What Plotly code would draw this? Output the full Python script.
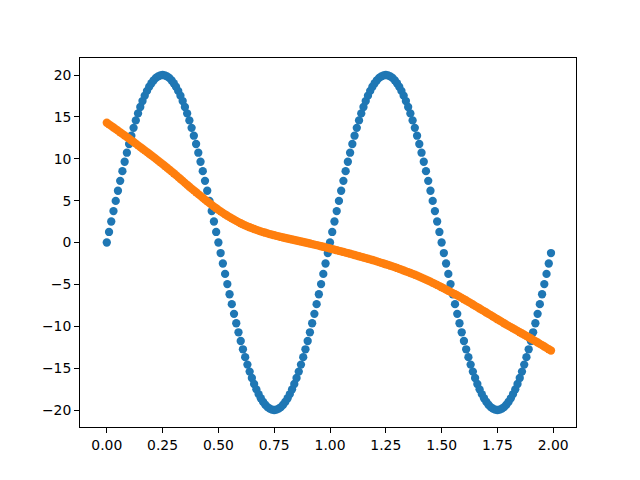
import plotly.graph_objects as go

# x positions (step 0.01 from 0.00 to 1.99)
x_vals = [round(0.01 * i, 2) for i in range(200)]

# blue series
blue_y = [
    0, 1.26, 2.51, 3.75, 4.97, 6.18, 7.36, 8.52, 9.64, 10.72,
    11.76, 12.75, 13.69, 14.58, 15.41, 16.18, 16.89, 17.53, 18.10, 18.60,
    19.02, 19.37, 19.65, 19.84, 19.96, 20.0, 19.96, 19.84, 19.65, 19.37,
    19.02, 18.60, 18.10, 17.53, 16.89, 16.18, 15.41, 14.58, 13.69, 12.75,
    11.76, 10.72, 9.64, 8.52, 7.36, 6.18, 4.97, 3.75, 2.51, 1.26,
    0, -1.26, -2.51, -3.75, -4.97, -6.18, -7.36, -8.52, -9.64, -10.72,
    -11.76, -12.75, -13.69, -14.58, -15.41, -16.18, -16.89, -17.53, -18.10, -18.60,
    -19.02, -19.37, -19.65, -19.84, -19.96, -20.0, -19.96, -19.84, -19.65, -19.37,
    -19.02, -18.60, -18.10, -17.53, -16.89, -16.18, -15.41, -14.58, -13.69, -12.75,
    -11.76, -10.72, -9.64, -8.52, -7.36, -6.18, -4.97, -3.75, -2.51, -1.26,
    0, 1.26, 2.51, 3.75, 4.97, 6.18, 7.36, 8.52, 9.64, 10.72,
    11.76, 12.75, 13.69, 14.58, 15.41, 16.18, 16.89, 17.53, 18.10, 18.60,
    19.02, 19.37, 19.65, 19.84, 19.96, 20.0, 19.96, 19.84, 19.65, 19.37,
    19.02, 18.60, 18.10, 17.53, 16.89, 16.18, 15.41, 14.58, 13.69, 12.75,
    11.76, 10.72, 9.64, 8.52, 7.36, 6.18, 4.97, 3.75, 2.51, 1.26,
    0, -1.26, -2.51, -3.75, -4.97, -6.18, -7.36, -8.52, -9.64, -10.72,
    -11.76, -12.75, -13.69, -14.58, -15.41, -16.18, -16.89, -17.53, -18.10, -18.60,
    -19.02, -19.37, -19.65, -19.84, -19.96, -20.0, -19.96, -19.84, -19.65, -19.37,
    -19.02, -18.60, -18.10, -17.53, -16.89, -16.18, -15.41, -14.58, -13.69, -12.75,
    -11.76, -10.72, -9.64, -8.52, -7.36, -6.18, -4.97, -3.75, -2.51, -1.26,
]

# orange series
orange_y = [
    14.30, 14.11, 13.92, 13.73, 13.54, 13.35, 13.16, 12.97, 12.78, 12.59,
    12.40, 12.20, 12.00, 11.80, 11.60, 11.40, 11.20, 11.00, 10.80, 10.60,
    10.40, 10.19, 9.98, 9.77, 9.56, 9.35, 9.14, 8.93, 8.71, 8.49,
    8.27, 8.04, 7.81, 7.58, 7.35, 7.12, 6.89, 6.66, 6.44, 6.22,
    6.00, 5.78, 5.56, 5.34, 5.12, 4.91, 4.70, 4.49, 4.29, 4.09,
    3.90, 3.72, 3.54, 3.37, 3.20, 3.04, 2.88, 2.73, 2.58, 2.44,
    2.30, 2.17, 2.05, 1.93, 1.82, 1.71, 1.61, 1.51, 1.42, 1.33,
    1.25, 1.17, 1.09, 1.01, 0.94, 0.87, 0.80, 0.73, 0.66, 0.60,
    0.54, 0.48, 0.42, 0.36, 0.30, 0.24, 0.18, 0.12, 0.06, 0.00,
    -0.06, -0.12, -0.19, -0.25, -0.32, -0.38, -0.45, -0.51, -0.58, -0.64,
    -0.71, -0.78, -0.85, -0.92, -0.99, -1.06, -1.13, -1.20, -1.27, -1.34,
    -1.41, -1.49, -1.56, -1.64, -1.71, -1.79, -1.86, -1.94, -2.01, -2.09,
    -2.17, -2.26, -2.34, -2.43, -2.51, -2.60, -2.68, -2.77, -2.85, -2.94,
    -3.04, -3.14, -3.24, -3.34, -3.44, -3.54, -3.64, -3.74, -3.85, -3.96,
    -4.07, -4.19, -4.31, -4.43, -4.55, -4.68, -4.81, -4.94, -5.07, -5.20,
    -5.34, -5.48, -5.62, -5.76, -5.90, -6.04, -6.18, -6.32, -6.47, -6.62,
    -6.77, -6.92, -7.08, -7.24, -7.40, -7.56, -7.72, -7.88, -8.04, -8.20,
    -8.36, -8.52, -8.68, -8.84, -9.00, -9.16, -9.32, -9.48, -9.64, -9.80,
    -9.96, -10.11, -10.26, -10.41, -10.56, -10.71, -10.86, -11.01, -11.16, -11.31,
    -11.46, -11.62, -11.78, -11.94, -12.10, -12.26, -12.42, -12.58, -12.74, -12.90,
]

x_ticks = [0.0, 0.25, 0.5, 0.75, 1.0, 1.25, 1.5, 1.75, 2.0]
x_tick_labels = ["0.00", "0.25", "0.50", "0.75", "1.00", "1.25", "1.50", "1.75", "2.00"]
y_ticks = [-20, -15, -10, -5, 0, 5, 10, 15, 20]
y_tick_labels = ["\u221220", "\u221215", "\u221210", "\u22125", "0", "5", "10", "15", "20"]

fig = go.Figure()
fig.add_trace(go.Scatter(
    x=x_vals, y=blue_y, mode="markers",
    marker=dict(color="#1f77b4", size=8.3, line=dict(width=0)),
))
fig.add_trace(go.Scatter(
    x=x_vals, y=orange_y, mode="markers",
    marker=dict(color="#ff7f0e", size=8.3, line=dict(width=0)),
))

axis_common = dict(
    showgrid=False, zeroline=False, showline=True, linecolor="black", linewidth=1,
    mirror=True, ticks="outside", ticklen=4.9, tickwidth=1, tickcolor="black",
    tickfont=dict(family="DejaVu Sans", size=13.9, color="black"),
)
fig.update_xaxes(range=[-0.12, 2.102], tickvals=x_ticks, ticktext=x_tick_labels, **axis_common)
fig.update_yaxes(range=[-22.03, 22.03], tickvals=y_ticks, ticktext=y_tick_labels, **axis_common)

# page body has an 8px margin, so the figure is shrunk to keep the plot area in place
fig.update_layout(
    width=632, height=472,
    margin=dict(l=72, r=64, t=50, b=53, pad=0),
    plot_bgcolor="white", paper_bgcolor="white",
    showlegend=False,
)

fig.write_html("out.html")
